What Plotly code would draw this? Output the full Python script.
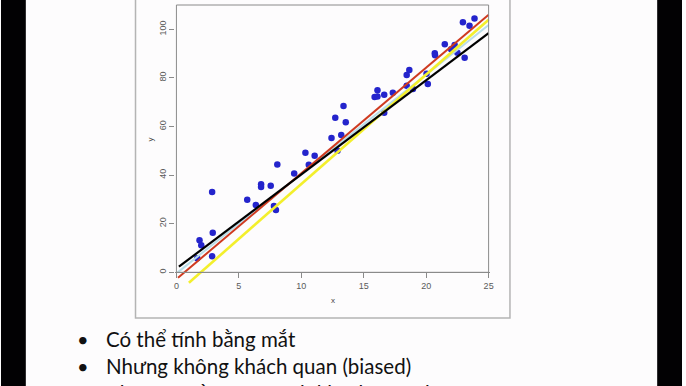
import plotly.graph_objects as go

# ---------------- data ----------------
pt_x = [2.86, 2.91, 1.85, 1.99, 2.86, 1.67, 5.67, 6.36, 6.78, 6.78, 7.55, 7.97, 7.81,
        8.08, 9.43, 10.33, 11.07, 10.6, 12.42, 13.2, 12.72, 13.38, 13.56, 12.9,
        15.87, 16.1, 16.1, 16.64, 17.33, 16.64, 18.44, 18.65, 18.44, 18.94, 20.03,
        20.13, 20.69, 20.71, 21.49, 22.28, 22.0, 22.5, 23.08, 22.94, 23.47, 23.87]
pt_y = [33.0, 16.3, 13.2, 11.1, 6.6, 5.8, 29.9, 27.7, 36.2, 35.1, 35.6, 25.6, 27.3,
        44.4, 40.7, 49.2, 48.0, 44.3, 55.3, 56.5, 63.6, 68.4, 61.7, 50.0,
        72.1, 72.3, 74.9, 73.1, 73.9, 65.7, 81.2, 83.3, 76.8, 75.4, 81.7,
        77.5, 90.1, 89.3, 93.8, 93.5, 91.8, 90.4, 88.3, 102.9, 101.5, 104.4]

line_names = ["lightblue", "yellow", "red", "black"]
line_intercepts = [-0.45, -8.8, -2.8, 1.53]
line_slopes = [4.09, 4.51, 4.35, 3.875]
line_x_start = [0.1, 1.0, 0.13, 0.2]
line_x_end = [25.0, 25.0, 25.0, 25.0]

x_ticks = [0, 5, 10, 15, 20, 25]
y_ticks = [0, 20, 40, 60, 80, 100]

bullets = ["Có thể tính bằng mắt",
           "Nhưng không khách quan (biased)",
           "Chúng ta cần một cách khách quan hơn"]

# ---------------- styles ----------------
W, H = 686, 386
line_colors = {"lightblue": "#b9dde8", "yellow": "#f3ef2c", "red": "#cf3a20", "black": "#000000"}
line_widths = {"lightblue": 2, "yellow": 2.6, "red": 2, "black": 2.2}

# pixel geometry
x0_px, px_per_x = 176.7, 12.58
y0_px, px_per_y = 272.3, 2.43
xr = [-0.1, 25.1]
yr = [-5.0, 110.5]

def px_x(v):
    return x0_px + v * px_per_x

def px_y(v):
    return y0_px - v * px_per_y

fig = go.Figure()

fig.add_trace(go.Scatter(x=pt_x, y=pt_y, mode="markers",
                         marker=dict(color="#2424cc", size=6.5, line=dict(width=0)),
                         showlegend=False, hoverinfo="skip"))

for name, b, m, xs, xe in zip(line_names, line_intercepts, line_slopes, line_x_start, line_x_end):
    fig.add_trace(go.Scatter(x=[xs, xe], y=[b + m * xs, b + m * xe], mode="lines",
                             line=dict(color=line_colors[name], width=line_widths[name]),
                             showlegend=False, hoverinfo="skip"))

axis_gray = "#8a8a8a"
tick_font = dict(family="Liberation Sans", size=9, color="#5a5a5a")

fig.update_layout(
    width=W, height=H,
    margin=dict(l=0, r=0, t=0, b=0),
    paper_bgcolor="#fdfcfd",
    plot_bgcolor="rgba(0,0,0,0)",
    xaxis=dict(range=xr,
               domain=[px_x(xr[0]) / W, px_x(xr[1]) / W],
               anchor="free", position=1 - y0_px / H,
               tickvals=x_ticks, ticktext=[str(v) for v in x_ticks],
               ticks="outside", ticklen=5, tickcolor=axis_gray, tickwidth=1,
               showline=True, linecolor=axis_gray, linewidth=1,
               showgrid=False, zeroline=False, tickfont=tick_font),
    yaxis=dict(range=yr,
               domain=[1 - px_y(yr[0]) / H, 1 - px_y(yr[1]) / H],
               tickvals=y_ticks, ticktext=[str(v) for v in y_ticks],
               ticks="outside", ticklen=5, tickcolor=axis_gray, tickwidth=1,
               tickangle=-90,
               showline=False, showgrid=False, zeroline=False, tickfont=tick_font),
)

shapes = []
# black side bars of the video frame
shapes.append(dict(type="rect", xref="paper", yref="paper", x0=0, x1=25 / W, y0=0, y1=1,
                   fillcolor="#020103", line=dict(width=0), layer="above"))
shapes.append(dict(type="rect", xref="paper", yref="paper", x0=661 / W, x1=1, y0=0, y1=1,
                   fillcolor="#020103", line=dict(width=0), layer="above"))
# outer picture frame
shapes.append(dict(type="rect", xref="paper", yref="paper", x0=135.5 / W, x1=512.7 / W,
                   y0=1 - 318 / H, y1=1.05, line=dict(color="#b4b4b4", width=1.5)))
# plot box
shapes.append(dict(type="rect", xref="x", yref="y", x0=0, x1=25, y0=0, y1=110,
                   line=dict(color=axis_gray, width=1)))
fig.update_layout(shapes=shapes)

ann = []
ann.append(dict(x=334 / W, y=1 - 307 / H, xref="paper", yref="paper", text="x", showarrow=False,
                font=dict(family="Liberation Sans", size=8, color="#444")))
ann.append(dict(x=145 / W, y=1 - 139 / H, xref="paper", yref="paper", text="y", showarrow=False,
                textangle=-90, font=dict(family="Liberation Sans", size=8, color="#444")))
bullet_y = [339, 366, 393]
for txt, by in zip(bullets, bullet_y):
    ann.append(dict(x=83 / W, y=1 - by / H, xref="paper", yref="paper", text="•", showarrow=False,
                    xanchor="center", yanchor="middle",
                    font=dict(family="Lato", size=20, color="#111")))
    ann.append(dict(x=104 / W, y=1 - by / H, xref="paper", yref="paper", text=txt, showarrow=False,
                    xanchor="left", yanchor="middle",
                    font=dict(family="Lato", size=20.5, color="#111")))
fig.update_layout(annotations=ann)

fig.write_html("out.html", config={"displayModeBar": False},
               post_script="document.body.style.margin='0';document.body.style.overflow='hidden';")
